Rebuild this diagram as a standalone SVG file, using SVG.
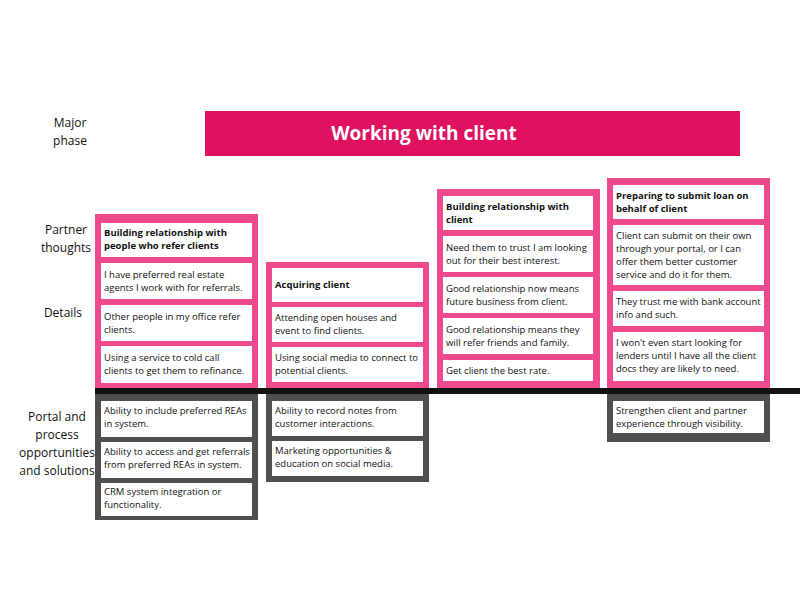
<svg xmlns="http://www.w3.org/2000/svg" width="800" height="600" viewBox="0 0 800 600">
<style>
text{font-family:"Open Sans","Liberation Sans",sans-serif;font-size:9.5px;fill:#111}
.lbl{font-size:12px;text-anchor:middle}
.b{font-weight:bold}
.pk{fill:#ec4a8d}
.gy{fill:#4f4f4f}
.c{fill:#fff}
</style>
<rect width="800" height="600" fill="#fff"/>
<g id="labels">
<text class="lbl" x="70" y="127">Major</text><text class="lbl" x="70" y="145">phase</text>
<text class="lbl" x="66" y="234">Partner</text><text class="lbl" x="66" y="252">thoughts</text>
<text class="lbl" x="63" y="317">Details</text>
<text class="lbl" x="57" y="421">Portal and</text><text class="lbl" x="57" y="439">process</text><text class="lbl" x="57" y="457">opportunities</text><text class="lbl" x="57" y="475">and solutions</text>
</g>
<g id="header">
<rect x="205" y="111" width="535" height="45" fill="#e0115f"/>
<text x="424" y="140" style="font-size:19px;font-weight:bold;fill:#fff;text-anchor:middle">Working with client</text>
</g>
<g id="col1">
<rect class="pk" x="95" y="214" width="163" height="175"/>
<rect class="c" x="101" y="223" width="151" height="34"/><text class="b" x="104" y="236">Building relationship with</text><text class="b" x="104" y="249">people who refer clients</text>
<rect class="c" x="101" y="263" width="151" height="36"/><text x="104" y="278">I have preferred real estate</text><text x="104" y="291">agents I work with for referrals.</text>
<rect class="c" x="101" y="305" width="151" height="36"/><text x="104" y="320">Other people in my office refer</text><text x="104" y="333">clients.</text>
<rect class="c" x="101" y="346" width="151" height="37"/><text x="104" y="361">Using a service to cold call</text><text x="104" y="374">clients to get them to refinance.</text>
<rect class="gy" x="95" y="394" width="163" height="126"/>
<rect class="c" x="101" y="401" width="151" height="36"/><text x="104" y="414">Ability to include preferred REAs</text><text x="104" y="427">in system.</text>
<rect class="c" x="101" y="442" width="151" height="36"/><text x="104" y="455">Ability to access and get referrals</text><text x="104" y="468">from preferred REAs in system.</text>
<rect class="c" x="101" y="483" width="151" height="33"/><text x="104" y="495">CRM system integration or</text><text x="104" y="508">functionality.</text>
</g>
<g id="col2">
<rect class="pk" x="266" y="262" width="163" height="127"/>
<rect class="c" x="272" y="268" width="151" height="34"/><text class="b" x="275" y="288">Acquiring client</text>
<rect class="c" x="272" y="307" width="151" height="35"/><text x="275" y="321">Attending open houses and</text><text x="275" y="334">event to find clients.</text>
<rect class="c" x="272" y="347" width="151" height="35"/><text x="275" y="361">Using social media to connect to</text><text x="275" y="374">potential clients.</text>
<rect class="gy" x="266" y="394" width="163" height="88"/>
<rect class="c" x="272" y="401" width="151" height="35"/><text x="275" y="414">Ability to record notes from</text><text x="275" y="427">customer interactions.</text>
<rect class="c" x="272" y="441" width="151" height="35"/><text x="275" y="454">Marketing opportunities &amp;</text><text x="275" y="467">education on social media.</text>
</g>
<g id="col3">
<rect class="pk" x="437" y="189" width="163" height="200"/>
<rect class="c" x="443" y="196" width="150" height="34"/><text class="b" x="446" y="210">Building relationship with</text><text class="b" x="446" y="223">client</text>
<rect class="c" x="443" y="236" width="150" height="36"/><text x="446" y="251">Need them to trust I am looking</text><text x="446" y="264">out for their best interest.</text>
<rect class="c" x="443" y="277" width="150" height="36"/><text x="446" y="292">Good relationship now means</text><text x="446" y="305">future business from client.</text>
<rect class="c" x="443" y="318" width="150" height="36"/><text x="446" y="333">Good relationship means they</text><text x="446" y="346">will refer friends and family.</text>
<rect class="c" x="443" y="360" width="150" height="21"/><text x="446" y="374">Get client the best rate.</text>
</g>
<g id="col4">
<rect class="pk" x="607" y="178" width="163" height="211"/>
<rect class="c" x="613" y="185" width="151" height="34"/><text class="b" x="616" y="199">Preparing to submit loan on</text><text class="b" x="616" y="212">behalf of client</text>
<rect class="c" x="613" y="225" width="151" height="60"/><text x="616" y="239">Client can submit on their own</text><text x="616" y="252">through your portal, or I can</text><text x="616" y="265">offer them better customer</text><text x="616" y="278">service and do it for them.</text>
<rect class="c" x="613" y="291" width="151" height="35"/><text x="616" y="305">They trust me with bank account</text><text x="616" y="318">info and such.</text>
<rect class="c" x="613" y="332" width="151" height="49"/><text x="616" y="346">I won't even start looking for</text><text x="616" y="359">lenders until I have all the client</text><text x="616" y="372">docs they are likely to need.</text>
<rect class="gy" x="607" y="394" width="163" height="48"/>
<rect class="c" x="613" y="401" width="151" height="32"/><text x="616" y="414">Strengthen client and partner</text><text x="616" y="427">experience through visibility.</text>
</g>
<g id="connectors">
<rect x="95" y="388" width="705" height="6" fill="#111"/>
</g>
</svg>
